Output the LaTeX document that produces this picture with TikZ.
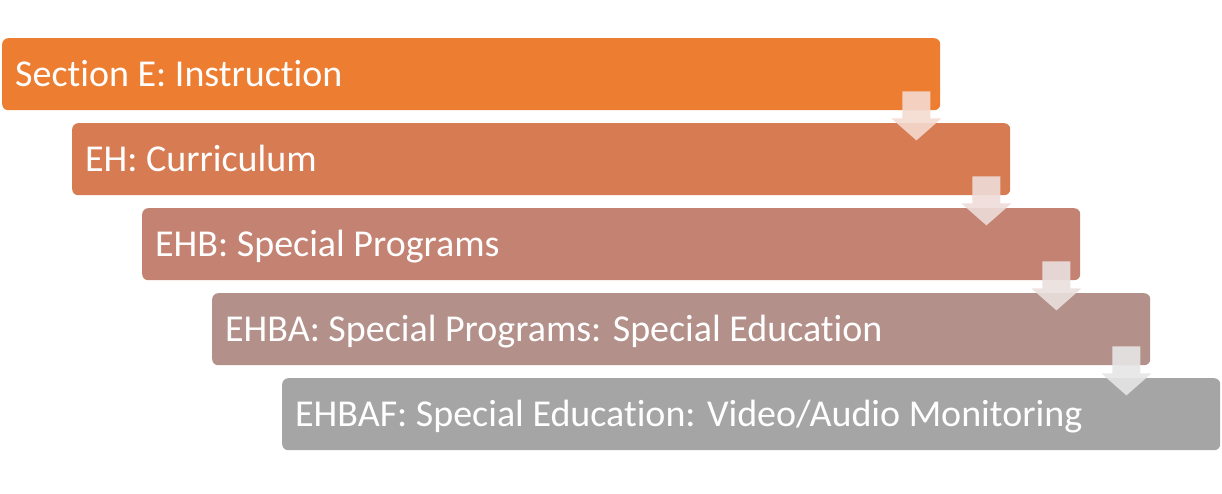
\documentclass[tikz,border=0pt]{standalone}
\usepackage{fontspec}
\setmainfont[Ligatures=NoCommon]{Carlito}
\definecolor{c1}{HTML}{ED7D31}
\definecolor{c2}{HTML}{D77B53}
\definecolor{c3}{HTML}{C48272}
\definecolor{c4}{HTML}{B39089}
\definecolor{c5}{HTML}{A5A5A5}
\tikzset{
  box/.style={rounded corners=6pt, minimum width=938pt, minimum height=72pt, inner sep=0pt, anchor=north west, draw=none},
  lbl/.style={anchor=base west, inner sep=0pt, text=white, font=\fontsize{38}{44}\selectfont},
  downarrow/.style={opacity=0.9}
}
\begin{document}
\begin{tikzpicture}[x=1pt,y=-1pt]
\useasboundingbox (0,0) rectangle (1222,494);
\node[box, fill=c1] (b1) at (2,38) {};
\node[box, fill=c2] (b2) at (72,123) {};
\node[box, fill=c3] (b3) at (142,208) {};
\node[box, fill=c4] (b4) at (212,293) {};
\node[box, fill=c5] (b5) at (282,378) {};
\foreach \i/\j in {1/2,2/3,3/4,4/5}{
  \fill[downarrow, fill=c\j!28!white, shift={(b\i.south east)}]
    (-38,-19) -- (-10,-19) -- (-10,8) -- (1,8) -- (-24,30) -- (-49,8) -- (-38,8) -- cycle;
}
\node[lbl] (t1) at ([shift={(13,12)}]b1.west) {Section E: Instruction};
\node[lbl] (t2) at ([shift={(13,12)}]b2.west) {EH: Curriculum};
\node[lbl] (t3) at ([shift={(13,12)}]b3.west) {EHB: Special Programs};
\node[lbl] (t4) at ([shift={(13,12)}]b4.west) {EHBA: Special Programs: Special Education};
\node[lbl] (t5) at ([shift={(13,12)}]b5.west) {EHBAF: Special Education: Video/Audio Monitoring};
\end{tikzpicture}
\end{document}
